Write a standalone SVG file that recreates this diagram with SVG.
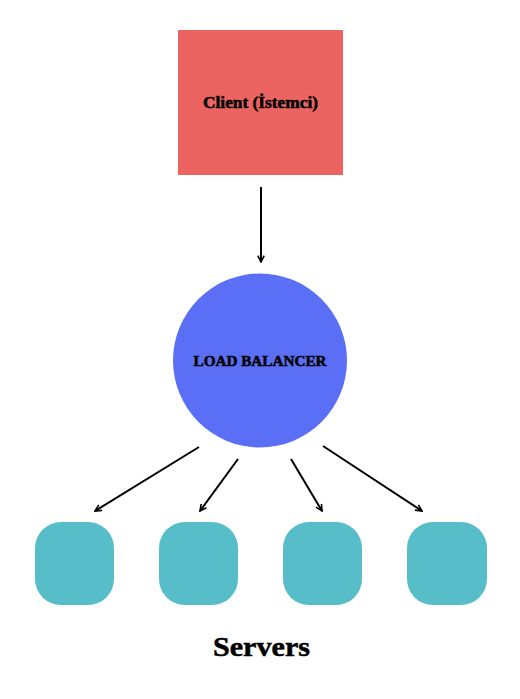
<svg xmlns="http://www.w3.org/2000/svg" width="520" height="699" viewBox="0 0 520 699">
<style>
.lbl{font-family:"Liberation Serif","DejaVu Serif",serif;font-weight:bold;fill:#000;stroke:#000;stroke-width:0.5;text-anchor:middle}
.srv{fill:#57BEC9}
.conn{stroke:#000;stroke-width:2;fill:none;marker-end:url(#ah)}
</style>
<defs>
<marker id="ah" viewBox="0 0 10 10" refX="9" refY="5" markerWidth="8" markerHeight="8" markerUnits="userSpaceOnUse" orient="auto">
<polyline points="1,1 9,5 1,9" fill="none" stroke="#000" stroke-width="2"/>
</marker>
</defs>
<rect width="520" height="699" fill="#fff"/>
<g id="client">
<rect x="178" y="30" width="165" height="145" fill="#EC6461"/>
<text class="lbl" x="260.5" y="108" font-size="16" textLength="115" lengthAdjust="spacingAndGlyphs">Client (İstemci)</text>
</g>
<g id="loadbalancer">
<circle cx="260" cy="360.5" r="87" fill="#5A6FF5"/>
<text class="lbl" x="260" y="366" font-size="15" textLength="133" lengthAdjust="spacingAndGlyphs">LOAD BALANCER</text>
</g>
<g id="server1"><rect class="srv" x="35" y="522" width="79" height="83" rx="26"/></g>
<g id="server2"><rect class="srv" x="159" y="522" width="79" height="83" rx="26"/></g>
<g id="server3"><rect class="srv" x="283" y="522" width="79" height="83" rx="26"/></g>
<g id="server4"><rect class="srv" x="407" y="522" width="80" height="83" rx="26"/></g>
<g id="connectors">
<line class="conn" x1="261" y1="187" x2="261" y2="262"/>
<line class="conn" x1="199" y1="447" x2="95" y2="511"/>
<line class="conn" x1="238" y1="459" x2="200" y2="511"/>
<line class="conn" x1="291" y1="459" x2="322" y2="511"/>
<line class="conn" x1="323" y1="446" x2="422" y2="511"/>
</g>
<text id="servers-label" class="lbl" x="261.5" y="656" font-size="27" textLength="97" lengthAdjust="spacingAndGlyphs">Servers</text>
</svg>
